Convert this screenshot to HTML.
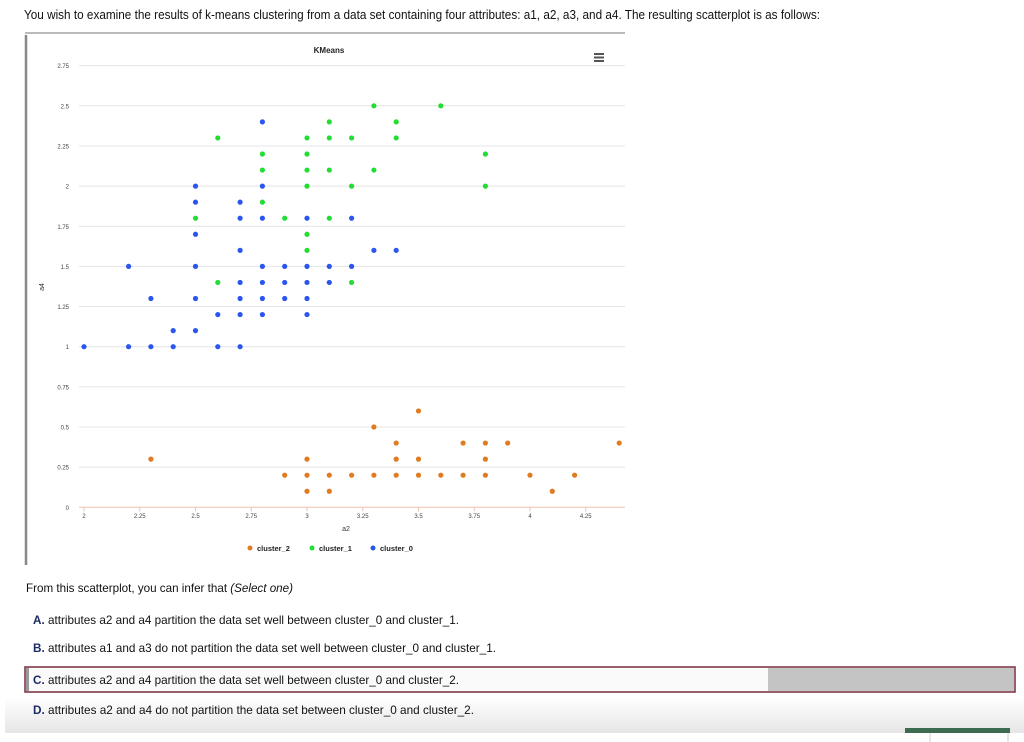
<!DOCTYPE html>
<html><head><meta charset="utf-8"><style>
html,body{margin:0;padding:0;background:#fff;}
svg{display:block;font-family:"Liberation Sans",sans-serif;}
</style></head><body>
<svg id="page" width="1024" height="742" viewBox="0 0 1024 742" xmlns="http://www.w3.org/2000/svg">
<defs><linearGradient id="dg" x1="0" y1="0" x2="0" y2="1"><stop offset="0" stop-color="#ffffff"/><stop offset="1" stop-color="#e6e6e6"/></linearGradient></defs>
<text x="24" y="19" font-size="12.5" textLength="796" lengthAdjust="spacingAndGlyphs" fill="#111">You wish to examine the results of k-means clustering from a data set containing four attributes: a1, a2, a3, and a4. The resulting scatterplot is as follows:</text>
<g>
<line x1="25" y1="33" x2="625" y2="33" stroke="#bbb" stroke-width="2"/>
<line x1="26" y1="35" x2="26" y2="565" stroke="#888" stroke-width="2.5"/>
<text x="329" y="53" font-size="8" font-weight="bold" text-anchor="middle" fill="#222">KMeans</text>
<g><rect x="594" y="53" width="10" height="2" fill="#555"/><rect x="594" y="56.5" width="10" height="2" fill="#555"/><rect x="594" y="60" width="10" height="2" fill="#555"/></g>
<g id="grid"></g>
<g id="yticks"></g>
<g id="xticks"></g>
<text x="0" y="0" font-size="7" fill="#333" text-anchor="middle" transform="translate(44,287) rotate(-90)">a4</text>
<text x="346" y="531" font-size="7" fill="#333" text-anchor="middle">a2</text>
<g id="marks"></g>
<g>
<g><circle cx="250" cy="548" r="2.5" fill="#e07b20"/><text x="257" y="551" font-size="7.5" font-weight="bold" fill="#222">cluster_2</text></g>
<g><circle cx="312" cy="548" r="2.5" fill="#22dd33"/><text x="319" y="551" font-size="7.5" font-weight="bold" fill="#222">cluster_1</text></g>
<g><circle cx="373" cy="548" r="2.5" fill="#2a55ee"/><text x="380" y="551" font-size="7.5" font-weight="bold" fill="#222">cluster_0</text></g>
</g>
</g>
<text x="26" y="592" font-size="12" textLength="267" lengthAdjust="spacingAndGlyphs" fill="#111">From this scatterplot, you can infer that <tspan font-style="italic">(Select one)</tspan></text>
<g><text x="33" y="624" font-size="12" textLength="426" lengthAdjust="spacingAndGlyphs" fill="#111"><tspan font-weight="bold" fill="#1a2a66">A.</tspan> attributes a2 and a4 partition the data set well between cluster_0 and cluster_1.</text></g>
<g><text x="33" y="652" font-size="12" textLength="463" lengthAdjust="spacingAndGlyphs" fill="#111"><tspan font-weight="bold" fill="#1a2a66">B.</tspan> attributes a1 and a3 do not partition the data set well between cluster_0 and cluster_1.</text></g>
<g>
<rect x="25" y="667" width="990" height="25" fill="#fafafa" stroke="#7a2a3a" stroke-width="1.5"/>
<rect x="768" y="668" width="246" height="23" fill="#c4c4c4"/>
<rect x="26" y="668" width="3" height="23" fill="#999"/>
<text x="33" y="684" font-size="12" textLength="426" lengthAdjust="spacingAndGlyphs" fill="#111"><tspan font-weight="bold" fill="#1a2a66">C.</tspan> attributes a2 and a4 partition the data set well between cluster_0 and cluster_2.</text></g>
<g>
<rect x="5" y="697" width="1019" height="36" fill="url(#dg)"/>
<text x="33" y="714" font-size="12" textLength="441" lengthAdjust="spacingAndGlyphs" fill="#111"><tspan font-weight="bold" fill="#1a2a66">D.</tspan> attributes a2 and a4 do not partition the data set between cluster_0 and cluster_2.</text></g>
<rect x="905" y="728" width="105" height="5" fill="#3d6b4f"/>
<line x1="930" y1="733" x2="930" y2="742" stroke="#ccc"/><line x1="1008" y1="733" x2="1008" y2="742" stroke="#ccc"/>
</svg>
<script>
const xTicks=[2,2.25,2.5,2.75,3,3.25,3.5,3.75,4,4.25];
const yTicks=[0,0.25,0.5,0.75,1,1.25,1.5,1.75,2,2.25,2.5,2.75];
const c0x=[2.8,2.5,2.8,2.5,2.7,2.7,2.8,3.0,3.2,2.5,2.7,3.3,3.4,2.2,2.5,2.8,2.9,3.0,3.1,3.2,2.7,2.8,2.9,3.0,3.1,2.3,2.5,2.7,2.8,2.9,3.0,2.6,2.7,2.8,3.0,2.4,2.5,2.0,2.2,2.3,2.4,2.6,2.7];
const c0y=[2.4,2.0,2.0,1.9,1.9,1.8,1.8,1.8,1.8,1.7,1.6,1.6,1.6,1.5,1.5,1.5,1.5,1.5,1.5,1.5,1.4,1.4,1.4,1.4,1.4,1.3,1.3,1.3,1.3,1.3,1.3,1.2,1.2,1.2,1.2,1.1,1.1,1.0,1.0,1.0,1.0,1.0,1.0];
const c1x=[3.3,3.6,3.1,3.4,2.6,3.0,3.1,3.2,3.4,2.8,3.0,3.8,2.8,3.0,3.1,3.3,3.0,3.2,3.8,2.8,2.5,2.9,3.1,3.0,3.0,2.6,3.2];
const c1y=[2.5,2.5,2.4,2.4,2.3,2.3,2.3,2.3,2.3,2.2,2.2,2.2,2.1,2.1,2.1,2.1,2.0,2.0,2.0,1.9,1.8,1.8,1.8,1.7,1.6,1.4,1.4];
const c2x=[3.5,3.3,3.4,3.7,3.8,3.9,4.4,2.3,3.0,3.4,3.5,3.8,2.9,3.0,3.1,3.2,3.3,3.4,3.5,3.6,3.7,3.8,4.0,4.2,3.0,3.1,4.1];
const c2y=[0.6,0.5,0.4,0.4,0.4,0.4,0.4,0.3,0.3,0.3,0.3,0.3,0.2,0.2,0.2,0.2,0.2,0.2,0.2,0.2,0.2,0.2,0.2,0.2,0.1,0.1,0.1];
const NS="http://www.w3.org/2000/svg";
function X(v){return 84+(v-2)*223;}
function Y(v){return 507.3-v*160.6;}
function mk(tag,attrs,parent){const e=document.createElementNS(NS,tag);for(const k in attrs)e.setAttribute(k,attrs[k]);parent.appendChild(e);return e;}
const grid=document.getElementById('grid'),yt=document.getElementById('yticks'),xt=document.getElementById('xticks'),marks=document.getElementById('marks');
yTicks.forEach(v=>{
  if(v>0){const l=mk('line',{x1:79,x2:625,y1:Y(v),y2:Y(v),stroke:'#e4e4e4','stroke-width':1},grid);
  
  }
  const t=mk('text',{x:69,y:Y(v)+2.5,'font-size':6,'text-anchor':'end',fill:'#444'},yt);t.textContent=String(v);
  
  
});
const ax=mk('line',{x1:79,x2:625,y1:Y(0),y2:Y(0),stroke:'#f0c0b0','stroke-width':1},grid);


xTicks.forEach(v=>{
  mk('line',{x1:X(v),x2:X(v),y1:Y(0),y2:Y(0)+4,stroke:'#f0c0b0'},xt);
  const t=mk('text',{x:X(v),y:518,'font-size':6,'text-anchor':'middle',fill:'#444'},xt);t.textContent=String(v);
  
  
});
function series(xs,ys,color,name){xs.forEach((x,i)=>{const c=mk('circle',{cx:X(x),cy:Y(ys[i]),r:2.6,fill:color},marks);
  
  });}
series(c2x,c2y,'#e07b20','cluster-2');
series(c1x,c1y,'#22dd33','cluster-1');
series(c0x,c0y,'#2a55ee','cluster-0');
</script>
</body></html>
